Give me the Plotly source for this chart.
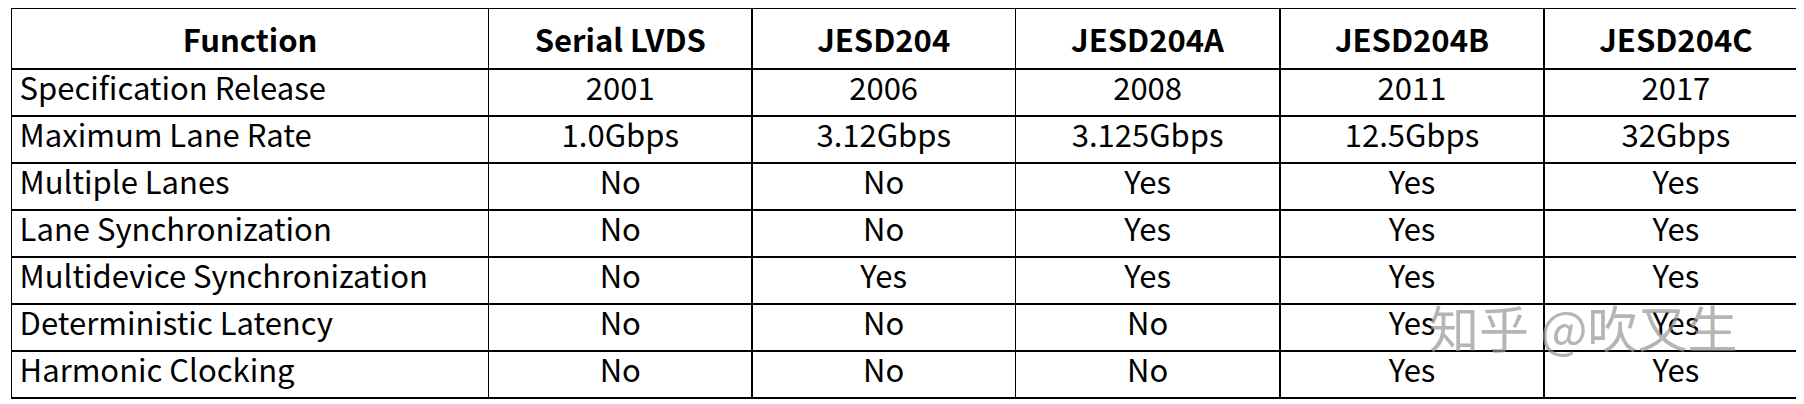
import plotly.graph_objects as go

headers = ["Function", "Serial LVDS", "JESD204", "JESD204A", "JESD204B", "JESD204C"]
functions = ["Specification Release", "Maximum Lane Rate", "Multiple Lanes", "Lane Synchronization",
             "Multidevice Synchronization", "Deterministic Latency", "Harmonic Clocking"]
serial_lvds = ["2001", "1.0Gbps", "No", "No", "No", "No", "No"]
jesd204 = ["2006", "3.12Gbps", "No", "No", "Yes", "No", "No"]
jesd204a = ["2008", "3.125Gbps", "Yes", "Yes", "Yes", "No", "No"]
jesd204b = ["2011", "12.5Gbps", "Yes", "Yes", "Yes", "Yes", "Yes"]
jesd204c = ["2017", "32Gbps", "Yes", "Yes", "Yes", "Yes", "Yes"]

font = "Noto Sans CJK SC"
fig = go.Figure(go.Table(
    domain=dict(x=[0.002, 0.998], y=[0, 1.0]),
    columnwidth=[478, 264, 264, 265, 265, 264],
    header=dict(values=[f"<b>{h}</b>" for h in headers],
                align="center", height=47,
                font=dict(family=font, size=31, color="black"),
                fill_color="white", line=dict(color="black", width=1.5)),
    cells=dict(values=[functions, serial_lvds, jesd204, jesd204a, jesd204b, jesd204c],
               align=["left"] + ["center"] * 5, height=47,
               font=dict(family=font, size=31, color="black"),
               fill_color="white", line=dict(color="black", width=1.5)),
))
fig.add_annotation(x=0.96, xanchor="right", y=0.12, xref="paper", yref="paper", text="知乎 @吹又生",
                   showarrow=False, font=dict(family=font, size=50, color="rgba(150,150,150,0.7)"))
fig.update_layout(width=1804, height=404, margin=dict(l=0, r=0, t=0, b=0),
                  paper_bgcolor="white")
fig.write_html("out.html")
